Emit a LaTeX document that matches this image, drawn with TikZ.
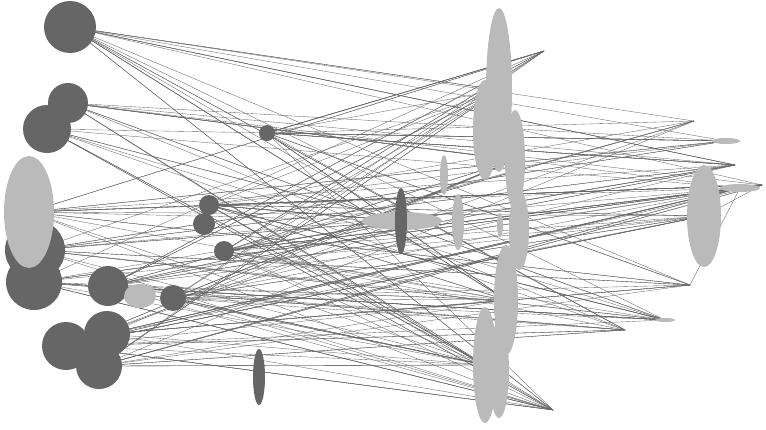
\documentclass[tikz,border=0pt]{standalone}
\begin{document}
\begin{tikzpicture}[x=1pt,y=-1pt,
  edge/.style={draw=black!60,line width=0.35pt},
  dk/.style={fill=black!60,draw=none},
  lt/.style={fill=black!27,draw=none}]
\useasboundingbox (0,0) rectangle (766,429);
% left coordinates
\coordinate (l1) at (70,27);
\coordinate (l2) at (68,103);
\coordinate (l3) at (47,129);
\coordinate (l4) at (29,212);
\coordinate (l5) at (35,250);
\coordinate (l6) at (34,282);
\coordinate (l7) at (108,286);
\coordinate (l8) at (66,346);
\coordinate (l9) at (107,334);
\coordinate (l10) at (99,366);
\coordinate (l11) at (173,298);
\coordinate (l12) at (209,205);
\coordinate (l13) at (224,251);
\coordinate (l14) at (267,133);
% right coordinates
\coordinate (r1) at (544,51);
\coordinate (r2) at (694,121);
\coordinate (r3) at (735,165);
\coordinate (r4) at (762,185);
\coordinate (r5) at (690,285);
\coordinate (r6) at (553,410);
\coordinate (r7) at (625,330);
\coordinate (r8) at (704,216);
\coordinate (r9) at (726,141);
\coordinate (r10) at (499,90);
\coordinate (r11) at (506,300);
\coordinate (r12) at (485,365);
\coordinate (r13) at (515,160);
\coordinate (r14) at (665,320);
\coordinate (r15) at (402,221);
\coordinate (r16) at (740,188);
\pgfmathsetseed{7}
\foreach \i in {1,...,230}{
  \pgfmathrandominteger{\a}{1}{14}
  \pgfmathrandominteger{\b}{1}{16}
  \draw[edge] (l\a) -- (r\b);
}
\draw[edge] (l14) -- (r6);
\draw[edge] (l1) -- (r6);
\draw[edge] (r4) -- (r8);
\draw[edge] (r16) -- (r5);
% nodes
\fill[lt] (499,90) ellipse (13 and 82);
\fill[lt] (485,130) ellipse (12 and 50);
\fill[lt] (515,160) ellipse (10 and 50);
\fill[lt] (519,230) ellipse (10 and 40);
\fill[lt] (506,300) ellipse (12 and 55);
\fill[lt] (485,365) ellipse (12 and 58);
\fill[lt] (499,370) ellipse (10 and 48);
\fill[lt] (704,216) ellipse (17 and 51);
\fill[lt] (444,175) ellipse (4 and 20);
\fill[lt] (458,222) ellipse (6 and 28);
\fill[lt] (500,225) ellipse (3 and 12);
\fill[lt] (726,141) ellipse (14 and 3);
\fill[lt] (740,188) ellipse (20 and 4);
\fill[lt] (665,320) ellipse (10 and 2);
\fill[lt] (402,221) ellipse (40 and 9);
\fill[dk] (401,221) ellipse (6 and 33);
\fill[dk] (70,27) circle (26);
\fill[dk] (68,103) circle (20);
\fill[dk] (47,129) circle (24);
\fill[dk] (35,250) circle (30);
\fill[dk] (34,282) circle (28);
\fill[lt] (29,212) ellipse (25 and 56);
\fill[dk] (108,286) circle (20);
\fill[lt] (140,296) ellipse (16 and 12);
\fill[dk] (173,298) circle (13);
\fill[dk] (66,346) circle (24);
\fill[dk] (107,334) circle (23);
\fill[dk] (99,366) circle (23);
\fill[dk] (209,205) circle (10);
\fill[dk] (204,224) circle (11);
\fill[dk] (224,251) circle (10);
\fill[dk] (267,133) circle (8);
\fill[dk] (259,377) ellipse (6 and 28);
\end{tikzpicture}
\end{document}
